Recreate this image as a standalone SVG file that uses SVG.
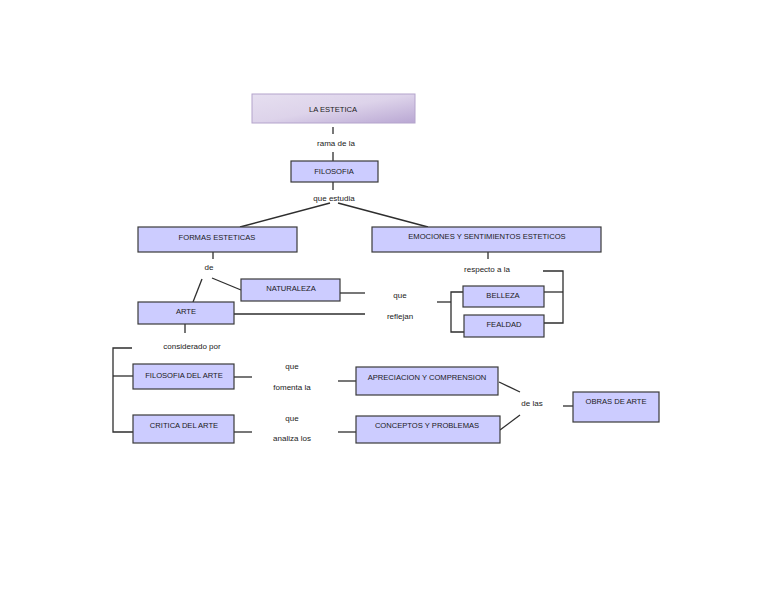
<svg xmlns="http://www.w3.org/2000/svg" width="768" height="594" viewBox="0 0 768 594">
<defs>
<linearGradient id="g1" x1="0" y1="0" x2="1" y2="1">
<stop offset="0" stop-color="#e6dff0"/>
<stop offset="0.5" stop-color="#ddd3ea"/>
<stop offset="1" stop-color="#b9a7d3"/>
</linearGradient>
</defs>
<style>
.b{fill:#ccccff;stroke:#3a3a3a;stroke-width:1.2}
.t{font-family:"Liberation Sans",Arial,sans-serif;font-size:7.6px;fill:#1a1a1a;text-anchor:middle}
.l{font-family:"Liberation Sans",Arial,sans-serif;font-size:8px;fill:#1a1a1a;text-anchor:middle}
#c line,#c polyline{stroke:#2e2e2e;stroke-width:1.3;fill:none}
</style>
<rect width="768" height="594" fill="#ffffff"/>
<g id="c">
<line x1="333" y1="127" x2="333" y2="134"/>
<line x1="333" y1="152" x2="333" y2="161"/>
<line x1="333" y1="182" x2="333" y2="190"/>
<line x1="330" y1="203" x2="240" y2="227"/>
<line x1="338" y1="203" x2="428" y2="227"/>
<line x1="213" y1="252" x2="213" y2="259"/>
<line x1="202" y1="279" x2="193" y2="302"/>
<line x1="212" y1="278" x2="241" y2="290"/>
<line x1="340" y1="293" x2="365" y2="293"/>
<line x1="234" y1="314" x2="365" y2="314"/>
<line x1="185" y1="324" x2="185" y2="333"/>
<line x1="488" y1="252" x2="488" y2="259"/>
<polyline points="543,271 563,271 563,323 544,323"/>
<line x1="544" y1="292" x2="563" y2="292"/>
<line x1="437" y1="302" x2="451" y2="302"/>
<polyline points="463,292 451,292 451,332 464,332"/>
<polyline points="132,348 113,348 113,432 133,432"/>
<line x1="113" y1="376" x2="133" y2="376"/>
<line x1="234" y1="377" x2="252" y2="377"/>
<line x1="234" y1="432" x2="252" y2="432"/>
<line x1="338" y1="381" x2="356" y2="381"/>
<line x1="338" y1="432" x2="356" y2="432"/>
<line x1="499" y1="382" x2="520" y2="392"/>
<line x1="500" y1="430" x2="520" y2="415"/>
<line x1="563" y1="406" x2="573" y2="406"/>
</g>
<g id="n1"><rect x="252" y="94" width="163" height="29" fill="url(#g1)" stroke="#b4a4cc" stroke-width="1"/><text class="t" x="333" y="112">LA ESTETICA</text></g>
<g id="n2"><rect class="b" x="291" y="161" width="87" height="21"/><text class="t" x="334" y="174">FILOSOFIA</text></g>
<g id="n3"><rect class="b" x="138" y="227" width="159" height="25"/><text class="t" x="217" y="240">FORMAS  ESTETICAS</text></g>
<g id="n4"><rect class="b" x="372" y="227" width="229" height="25"/><text class="t" x="487" y="239">EMOCIONES Y SENTIMIENTOS ESTETICOS</text></g>
<g id="n5"><rect class="b" x="241" y="279" width="99" height="22"/><text class="t" x="291" y="291">NATURALEZA</text></g>
<g id="n6"><rect class="b" x="138" y="302" width="96" height="22"/><text class="t" x="186" y="314">ARTE</text></g>
<g id="n7"><rect class="b" x="463" y="286" width="81" height="21"/><text class="t" x="503" y="298">BELLEZA</text></g>
<g id="n8"><rect class="b" x="464" y="315" width="80" height="22"/><text class="t" x="504" y="327">FEALDAD</text></g>
<g id="n9"><rect class="b" x="133" y="364" width="101" height="25"/><text class="t" x="184" y="378">FILOSOFIA DEL ARTE</text></g>
<g id="n10"><rect class="b" x="133" y="415" width="101" height="28"/><text class="t" x="184" y="428">CRITICA DEL ARTE</text></g>
<g id="n11"><rect class="b" x="356" y="367" width="142" height="28"/><text class="t" x="427" y="380">APRECIACION Y COMPRENSION</text></g>
<g id="n12"><rect class="b" x="356" y="416" width="144" height="27"/><text class="t" x="427" y="428">CONCEPTOS Y PROBLEMAS</text></g>
<g id="n13"><rect class="b" x="573" y="392" width="86" height="30"/><text class="t" x="616" y="404">OBRAS  DE ARTE</text></g>
<g id="labels">
<text class="l" x="336" y="146">rama de la</text>
<text class="l" x="334" y="201">que estudia</text>
<text class="l" x="209" y="270">de</text>
<text class="l" x="400" y="298">que</text>
<text class="l" x="400" y="319">reflejan</text>
<text class="l" x="487" y="272">respecto a la</text>
<text class="l" x="192" y="349">considerado por</text>
<text class="l" x="292" y="369">que</text>
<text class="l" x="292" y="390">fomenta la</text>
<text class="l" x="292" y="421">que</text>
<text class="l" x="292" y="441">analiza los</text>
<text class="l" x="532" y="406">de las</text>
</g>
</svg>
